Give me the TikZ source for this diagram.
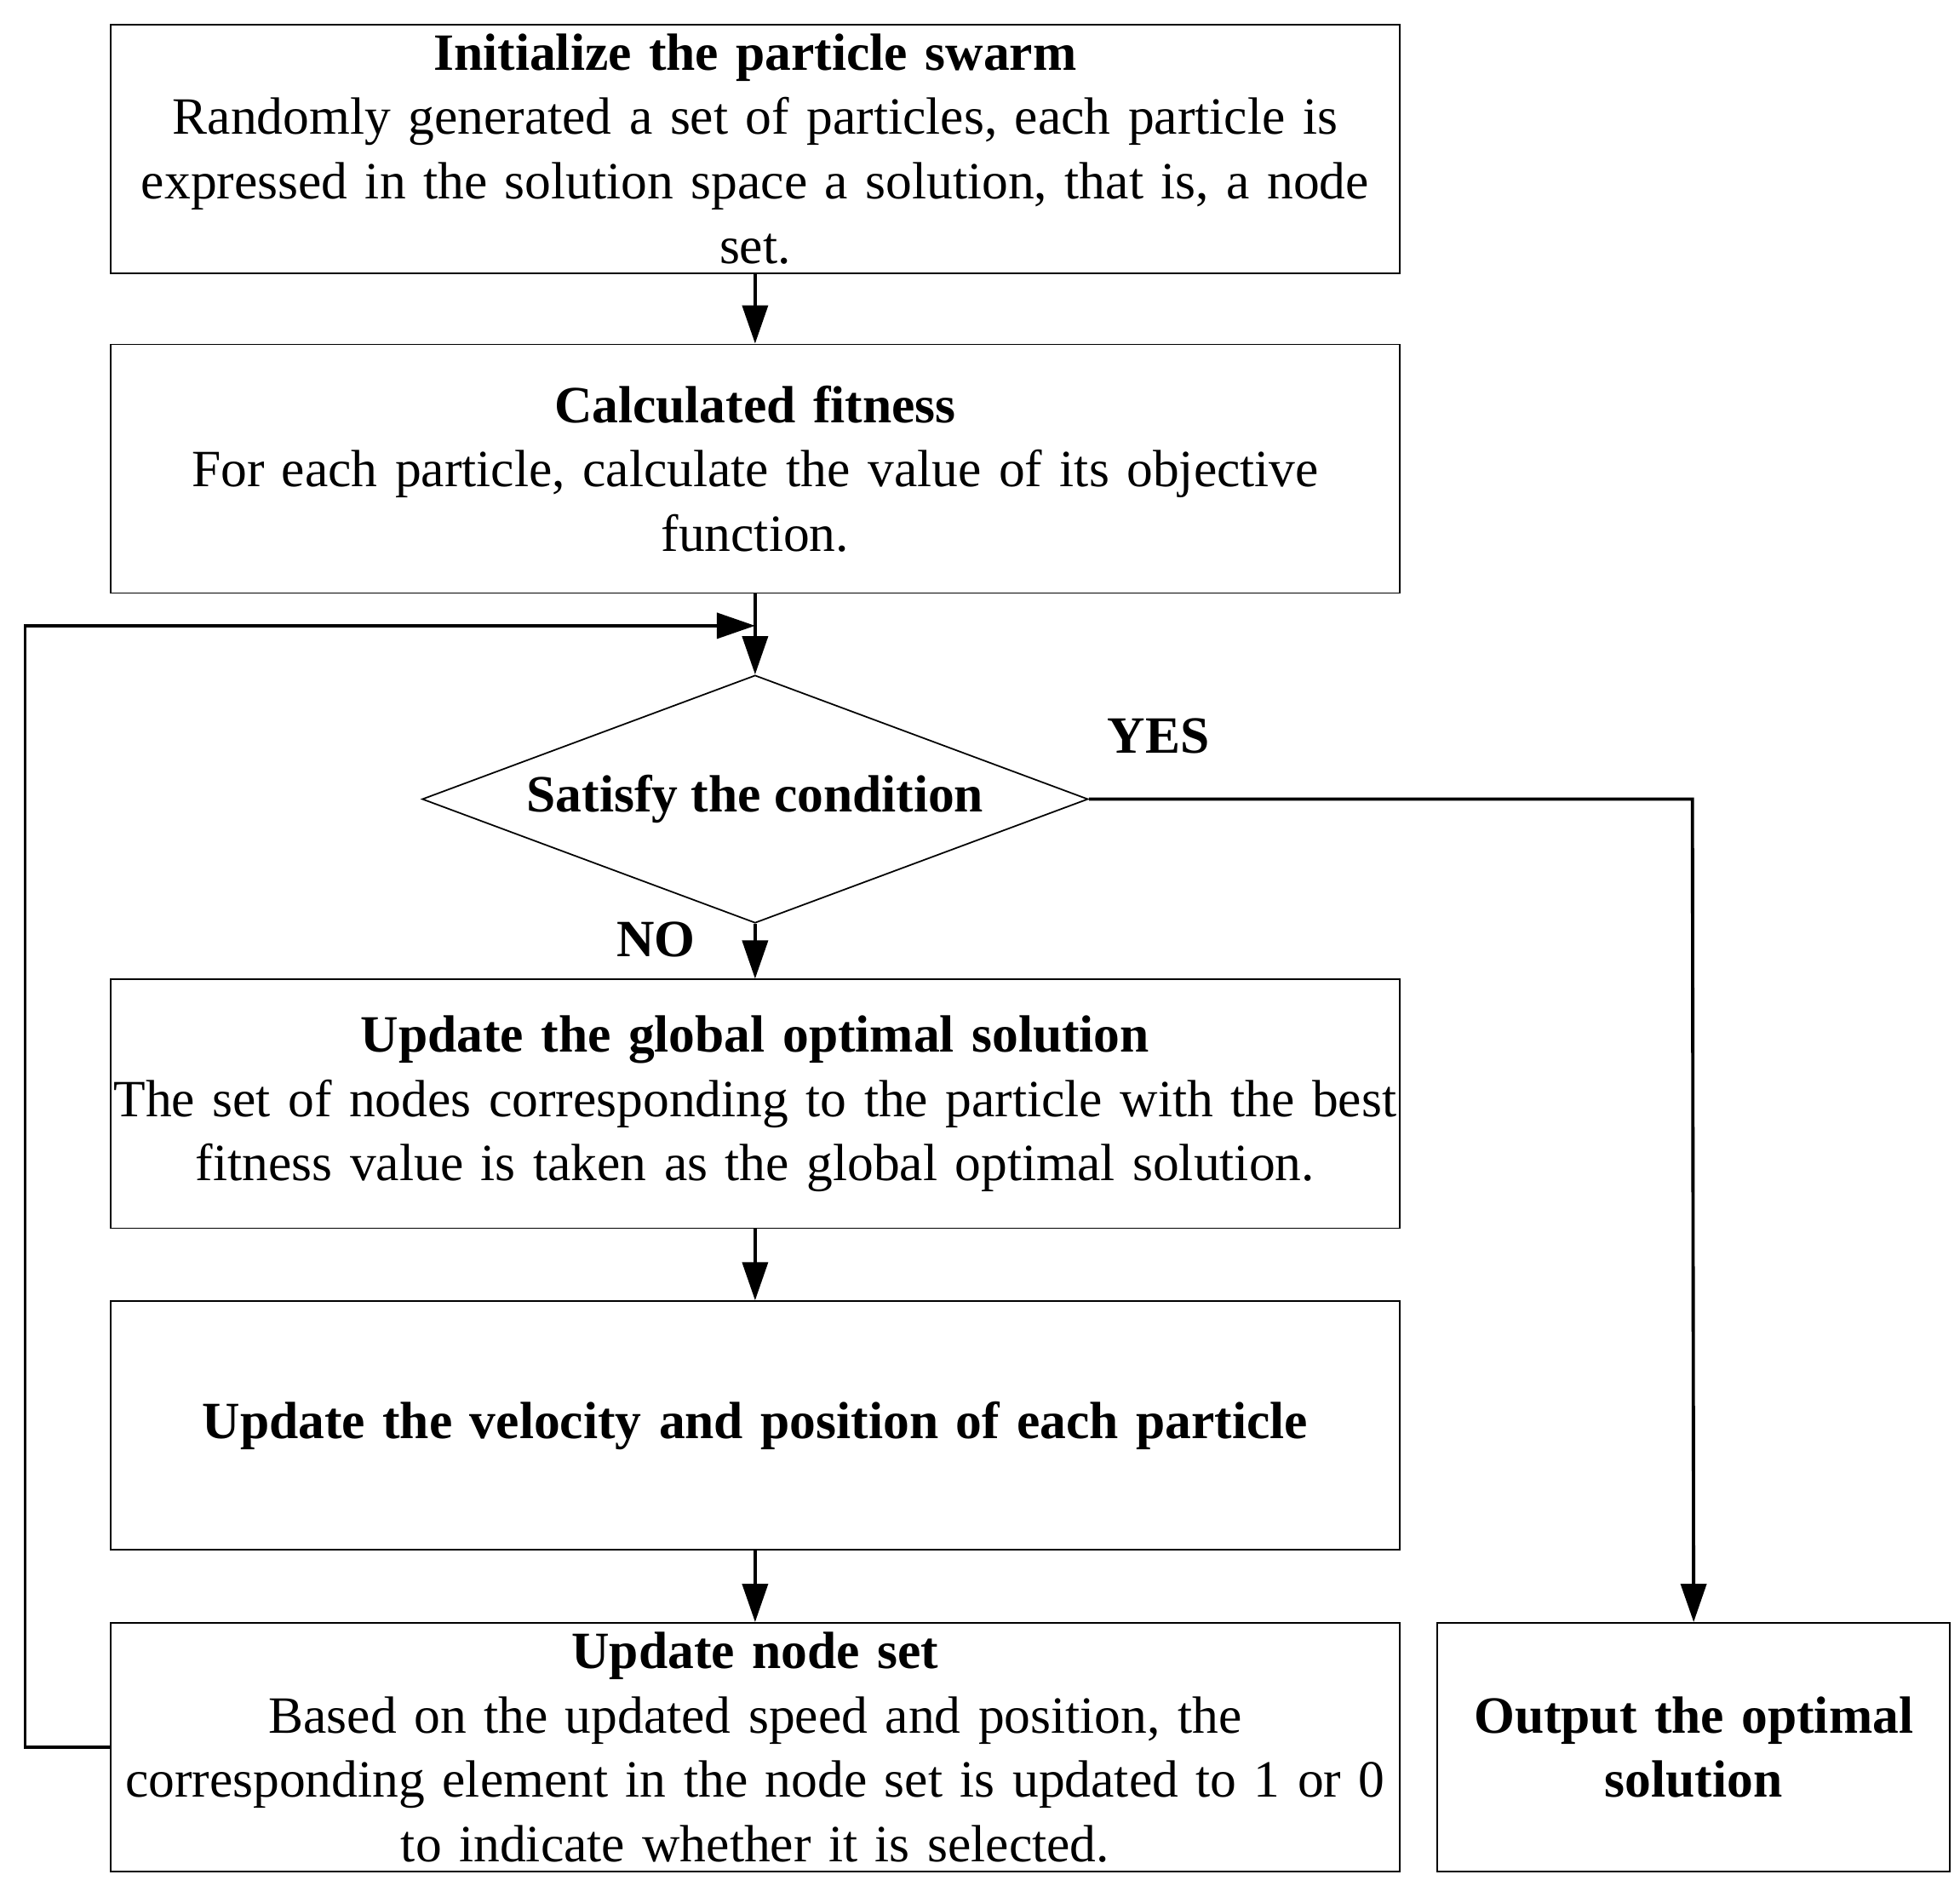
\documentclass[tikz,border=0pt]{standalone}
\usepackage{fontspec}
\setmainfont{Liberation Serif}
\usetikzlibrary{shapes.geometric,arrows.meta}
\begin{document}
\begin{tikzpicture}[x=0.01476cm,y=-0.01476cm,
  box/.style={draw,line width=0.5pt,minimum width=15.14cm,minimum height=2.92cm,text width=15.1cm,align=center,inner sep=0pt,font=\fontsize{17.5}{21.5}\selectfont},
  arr/.style={line width=1.1pt,-{Triangle[length=0.45cm,width=0.3cm]}},
  lbl/.style={font=\fontsize{17.5}{21.5}\selectfont\bfseries}]
\useasboundingbox (0,0) rectangle (1560,1501);
\node[box] (b1) at (601,118.5) {\textbf{Initialize the particle swarm}\\Randomly generated a set of particles, each particle is\\expressed in the solution space a solution, that is, a node\\set.};
\node[box] (b2) at (601,373) {\textbf{Calculated fitness}\\For each particle, calculate the value of its objective\\function.};
\node[draw,diamond,line width=0.5pt,minimum width=7.82cm,minimum height=2.91cm,aspect=2.7,inner sep=0pt,lbl] (d) at (601,636) {Satisfy the condition};
\node[box] (b3) at (601,878.5) {\textbf{Update the global optimal solution}\\The set of nodes corresponding to the particle with the best\\fitness value is taken as the global optimal solution.};
\node[box] (b4) at (601,1134.5) {\textbf{Update the velocity and position of each particle}};
\node[box] (b5) at (601,1390.5) {\textbf{Update node set}\\Based on the updated speed and position, the\\corresponding element in the node set is updated to 1 or 0\\to indicate whether it is selected.};
\node[box,minimum width=6.02cm,text width=6cm] (o) at (1348,1390.5) {\textbf{Output the optimal}\\\textbf{solution}};
\node[lbl] (yes) at (922,586) {YES};
\node[lbl] (no) at (522,748) {NO};
\coordinate (j) at (601,498);
\coordinate (l) at (20,1390.5);
\coordinate (r) at (1347,636);
\draw[arr] (b1) -- (b2);
\draw[arr] (b2) -- (d);
\draw[arr] (d) -- (b3);
\draw[arr] (b3) -- (b4);
\draw[arr] (b4) -- (b5);
\draw[arr] (b5.west) -- (l) |- (j);
\draw[arr] (d.east) -- (r) -- (o.north);
\end{tikzpicture}
\end{document}
